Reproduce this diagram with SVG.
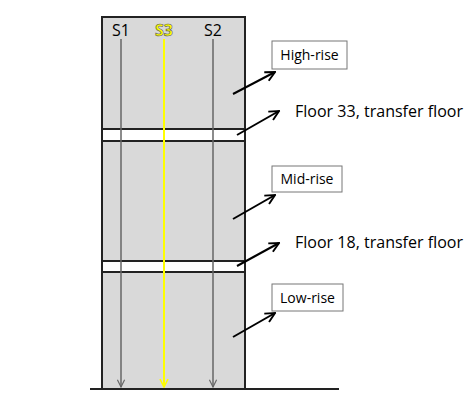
<svg xmlns="http://www.w3.org/2000/svg" width="474" height="409" viewBox="0 0 474 409">
<style>
.lbl{font-family:"Open Sans","Liberation Sans",sans-serif;fill:#000}
.box{fill:#fff;stroke:#777;stroke-width:1}
.ptr{stroke:#000;stroke-width:2;fill:none;marker-end:url(#ah)}
.shaft{stroke:#666;stroke-width:1.5;fill:none;marker-end:url(#ah2)}
</style>
<defs>
<marker id="ah" viewBox="0 0 10 10" refX="9" refY="5" markerWidth="6" markerHeight="6" orient="auto" markerUnits="strokeWidth"><path d="M1,1 L9,5 L1,9" fill="none" stroke="#000" stroke-width="1.6"/></marker>
<marker id="ah2" viewBox="0 0 10 10" refX="9" refY="5" markerWidth="6" markerHeight="6" orient="auto" markerUnits="strokeWidth"><path d="M1,1 L9,5 L1,9" fill="none" stroke="#666" stroke-width="1.3"/></marker>
<marker id="ah3" viewBox="0 0 10 10" refX="9" refY="5" markerWidth="5" markerHeight="5" orient="auto" markerUnits="strokeWidth"><path d="M1,1 L9,5 L1,9" fill="none" stroke="#ffff00" stroke-width="1.6"/></marker>
</defs>
<g id="building">
<rect x="102" y="17" width="143" height="372" fill="#d9d9d9" stroke="#222" stroke-width="2"/>
<rect x="102" y="129" width="143" height="12" fill="#fff" stroke="#222" stroke-width="2"/>
<rect x="102" y="261" width="143" height="11" fill="#fff" stroke="#222" stroke-width="2"/>
</g>
<g id="ground"><line x1="90" y1="389" x2="339" y2="389" stroke="#222" stroke-width="2"/></g>
<g id="shafts">
<line class="shaft" x1="121" y1="39" x2="121" y2="387"/>
<line class="shaft" x1="213" y1="39" x2="213" y2="387"/>
<line x1="164" y1="39" x2="164" y2="387" stroke="#ffff00" stroke-width="2" marker-end="url(#ah3)"/>
<text class="lbl" x="121" y="36" font-size="16" text-anchor="middle">S1</text>
<text x="164" y="36" font-size="16" text-anchor="middle" font-family="Open Sans, Liberation Sans, sans-serif" font-weight="bold" fill="#ffff00" stroke="#555" stroke-width="0.6">S3</text>
<text class="lbl" x="213" y="36" font-size="16" text-anchor="middle">S2</text>
</g>
<g id="high-rise">
<rect class="box" x="272" y="41" width="75" height="28"/>
<text class="lbl" x="309.5" y="60" font-size="14" text-anchor="middle">High-rise</text>
</g>
<g id="mid-rise">
<rect class="box" x="272" y="166" width="70" height="26"/>
<text class="lbl" x="307" y="184" font-size="14" text-anchor="middle">Mid-rise</text>
</g>
<g id="low-rise">
<rect class="box" x="272" y="284" width="71" height="27"/>
<text class="lbl" x="307.5" y="302.5" font-size="14" text-anchor="middle">Low-rise</text>
</g>
<g id="floor33"><text class="lbl" x="295" y="117" font-size="16" textLength="168" lengthAdjust="spacingAndGlyphs">Floor 33, transfer floor</text></g>
<g id="floor18"><text class="lbl" x="295" y="248" font-size="16" textLength="168" lengthAdjust="spacingAndGlyphs">Floor 18, transfer floor</text></g>
<g id="connectors">
<line class="ptr" x1="233" y1="94" x2="275" y2="72"/>
<line class="ptr" x1="237" y1="135" x2="279" y2="111"/>
<line class="ptr" x1="233" y1="219" x2="275" y2="195"/>
<line class="ptr" x1="237" y1="266" x2="279" y2="243"/>
<line class="ptr" x1="233" y1="337" x2="275" y2="313"/>
</g>
</svg>
